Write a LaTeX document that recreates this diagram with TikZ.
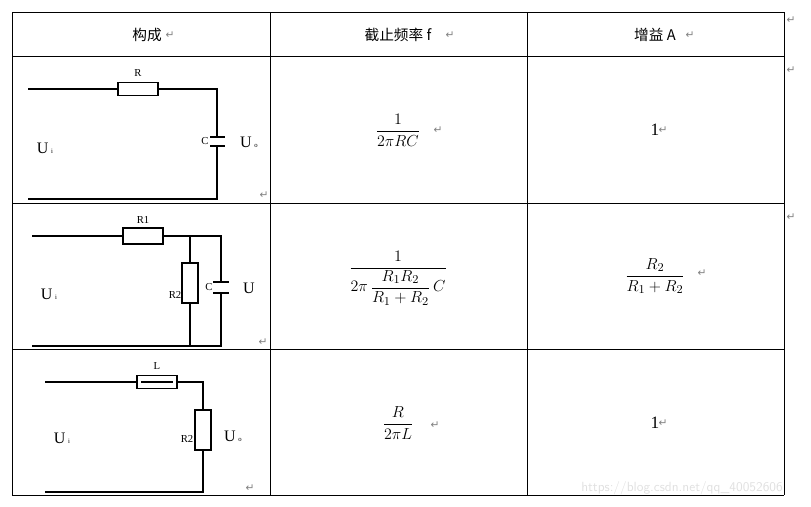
\documentclass[tikz,border=0pt]{standalone}
\usepackage{amsmath}
\usepackage{fontspec}
\setmainfont{Liberation Serif}
\newfontfamily\cjk{Noto Sans CJK SC}
\newfontfamily\djvfont{DejaVu Sans}
\begin{document}
\begin{tikzpicture}[x=0.75pt,y=-0.75pt,line width=0.8pt,
 comp/.style={draw,fill=white,rectangle,inner sep=0pt},
 lbl/.style={inner sep=0pt,font=\fontsize{8}{9}\selectfont},
 big/.style={inner sep=0pt,font=\fontsize{12}{13}\selectfont},
 head/.style={inner sep=0pt,font=\cjk\fontsize{11}{13}\selectfont},
 ret/.style={inner sep=0pt,text=gray,font=\djvfont\fontsize{8}{9}\selectfont},
 math/.style={inner sep=0pt,font=\fontsize{13}{15}\selectfont}]
\useasboundingbox (0,0) rectangle (811,507);
% table
\foreach \x in {12,270,527,784} \draw[line width=0.6pt] (\x,12) -- (\x,495);
\foreach \y in {12,56,203,349,495} \draw[line width=0.6pt] (12,\y) -- (784,\y);
\node[head] (h1) at (147,35) {构成};
\node[head] (h2) at (398,35) {截止频率 f};
\node[head] (h3) at (655,35) {增益 A};
% circuit 1
\coordinate (a1) at (28,89); \coordinate (a2) at (217,89);
\coordinate (a3) at (217,199); \coordinate (a4) at (28,199);
\draw (a1) -- (a2) -- (217,137); \draw (217,146) -- (a3) -- (a4);
\node[comp,minimum width=30pt,minimum height=10pt] (r1) at (138,89) {};
\draw (210,137) -- (225,137) (210,146) -- (225,146);
\node[lbl] (lr) at (138,73) {R};
\node[lbl] (lc) at (205,141) {C};
\node[big] (uo1) at (249,142) {U\,{\tiny o}};
\node[big] (ui1) at (45,148) {U\,{\tiny i}};
% circuit 2
\coordinate (b1) at (32,236); \coordinate (b2) at (221,236);
\coordinate (b3) at (221,346); \coordinate (b4) at (32,346);
\coordinate (j1) at (190,236); \coordinate (j2) at (190,346);
\draw (b1) -- (b2) -- (221,282); \draw (221,293) -- (b3) -- (b4);
\draw (j1) -- (j2);
\node[comp,minimum width=30pt,minimum height=12pt] (r2a) at (143,236) {};
\node[comp,minimum width=12pt,minimum height=30pt] (r2b) at (190,283) {};
\draw (213,282) -- (229,282) (213,293) -- (229,293);
\node[lbl] (lr1) at (143,220) {R1};
\node[lbl] (lr2) at (175,295) {R2};
\node[lbl] (lc2) at (209,287) {C};
\node[big] (uo2) at (249,288) {U};
\node[big] (ui2) at (49,294) {U\,{\tiny i}};
% circuit 3
\coordinate (c1) at (45,382); \coordinate (c2) at (203,382);
\coordinate (c3) at (203,492); \coordinate (c4) at (45,492);
\draw (c1) -- (c2) -- (c3) -- (c4);
\node[comp,minimum width=30pt,minimum height=10pt] (l3) at (157,382) {};
\draw (141,382) -- (173,382);
\node[comp,minimum width=12pt,minimum height=30pt] (r3) at (203,430) {};
\node[lbl] (ll) at (157,366) {L};
\node[lbl] (lr3) at (187,439) {R2};
\node[big] (uo3) at (233,436) {U\,{\tiny o}};
\node[big] (ui3) at (62,438) {U\,{\tiny i}};
% formulas
\node[math] (f1) at (398,130) {$\dfrac{1}{2\pi RC}$};
\node[math] (f2) at (398,278) {$\dfrac{1}{2\pi\,\dfrac{R_1R_2}{R_1+R_2}\,C}$};
\node[math] (f3) at (398,423) {$\dfrac{R}{2\pi L}$};
\node[math] (g1) at (655,130) {1};
\node[math] (g2) at (655,276) {$\dfrac{R_2}{R_1+R_2}$};
\node[math] (g3) at (655,423) {1};
% return marks
\foreach \p in {(170,35),(450,35),(690,35),(438,130),(663,130),(264,195),(702,273),(263,342),(435,425),(663,423),(250,488),(791,20),(791,70),(791,217)} \node[ret] at \p {↵};
\node[inner sep=0pt,text=black!12,font=\fontsize{10}{12}\selectfont\sffamily] (wm) at (682,488) {https://blog.csdn.net/qq\_40052606};
\end{tikzpicture}
\end{document}
